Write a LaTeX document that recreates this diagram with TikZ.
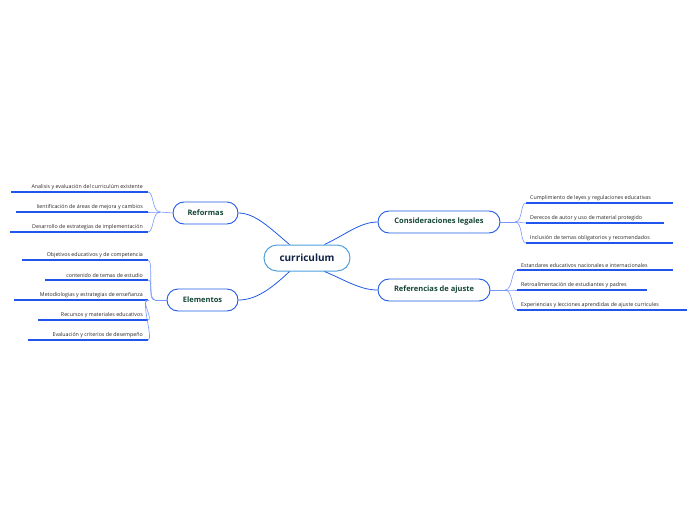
\documentclass[tikz,border=0pt]{standalone}
\usepackage{fontspec}
\setmainfont{Open Sans}
\usetikzlibrary{calc}
\begin{document}
\begin{tikzpicture}[x=1pt,y=-1pt,
  leaf/.style={font=\fontsize{5.3}{6}\selectfont,inner sep=1pt,text=black!85},
  leafline/.style={draw={rgb,255:red,34;green,85;blue,238},line width=1.4pt},
  thin/.style={draw={rgb,255:red,120;green,150;blue,255},line width=0.6pt},
  main/.style={draw={rgb,255:red,30;green,90;blue,230},line width=0.8pt},
  branch/.style={draw={rgb,255:red,30;green,90;blue,230},line width=0.9pt,fill=white,rounded corners=11pt,minimum height=22pt,font=\bfseries\fontsize{7.5}{9}\selectfont,text={rgb,255:red,20;green,70;blue,55},inner sep=0pt}]
\useasboundingbox (0,0) rectangle (696,520);
\node[draw={rgb,255:red,80;green,160;blue,220},line width=1pt,rounded corners=13pt,minimum width=86pt,minimum height=26pt,inner sep=0pt,font=\bfseries\fontsize{10}{12}\selectfont,text={rgb,255:red,15;green,35;blue,70}] (c) at (307,258) {curriculum};
\node[branch,minimum width=65pt] (r) at (205.5,213) {Reformas};
\node[branch,minimum width=71pt] (e) at (202.5,300) {Elementos};
\node[branch,minimum width=122pt] (cl) at (439,222) {Consideraciones legales};
\node[branch,minimum width=112pt] (ra) at (434,290) {Referencias de ajuste};
\coordinate (c1) at ($(c.north west)+(26,0)$);
\coordinate (c2) at ($(c.south west)+(26,0)$);
\coordinate (c3) at ($(c.north east)+(-26,0)$);
\coordinate (c4) at ($(c.south east)+(-26,0)$);
\draw[main] (c1) .. controls (270,228) and (255,213) .. (r.east);
\draw[main] (c2) .. controls (270,290) and (255,300) .. (e.east);
\draw[main] (c3) .. controls (345,235) and (360,222) .. (cl.west);
\draw[main] (c4) .. controls (345,280) and (360,290) .. (ra.west);
% hubs
\coordinate (hr) at (160,212); \coordinate (he) at (155,300);
\coordinate (hc) at (515,222); \coordinate (ha) at (505,290);
\draw[thin] (r.west) -- (hr); \draw[thin] (e.west) -- (he);
\draw[thin] (cl.east) -- (hc); \draw[thin] (ra.east) -- (ha);
% left leaves
\foreach \n/\y/\xs/\t/\h in {a/192/11/{Analisis y evaluación del curriculúm existente}/hr,
  b/212/16/{Iientificación de áreas de mejora y cambios}/hr,
  d/232/10/{Desarrollo de estrategias de implementación}/hr,
  f/260/22/{Objetivos educativos y de competencia}/he,
  g/280/45/{contenido de temas de estudio}/he,
  h/300/14/{Metodiologias y estrategias de enseñanza}/he,
  i/320/38/{Recursos y materiales educativos}/he,
  j/340/28/{Evaluación y criterios de desempeño}/he}{
  \coordinate (\n s) at (\xs,\y); \coordinate (\n e) at (148,\y);
  \draw[leafline] (\n s) -- (\n e);
  \node[leaf,anchor=south east] (\n t) at (144,\y-1.5) {\t};
  \draw[thin] (\h) .. controls ($(\h)+(-8,0)$) and ($(\n e)+(6,0)$) .. (\n e);
}
% right leaves
\foreach \n/\y/\xs/\xe/\t/\h in {k/203/526/673/{Cumplimiento de leyes y regulaciones educativas}/hc,
  l/223/526/664/{Derecos de autor y uso de material protegido}/hc,
  m/243/526/673/{Inclusión de temas obligatorios y recomendados}/hc,
  n/270/517/673/{Estandares educativos nacionales e internacionales}/ha,
  o/290/517/647/{Retroalimentación de estudiantes y padres}/ha,
  p/310/517/687/{Experiencias y lecciones aprendidas de ajuste curricules}/ha}{
  \coordinate (\n s) at (\xs,\y); \coordinate (\n e) at (\xe,\y);
  \draw[leafline] (\n s) -- (\n e);
  \node[leaf,anchor=south west] (\n t) at (\xs+3,\y-1.5) {\t};
  \draw[thin] (\h) .. controls ($(\h)+(8,0)$) and ($(\n s)+(-6,0)$) .. (\n s);
}
\end{tikzpicture}
\end{document}
